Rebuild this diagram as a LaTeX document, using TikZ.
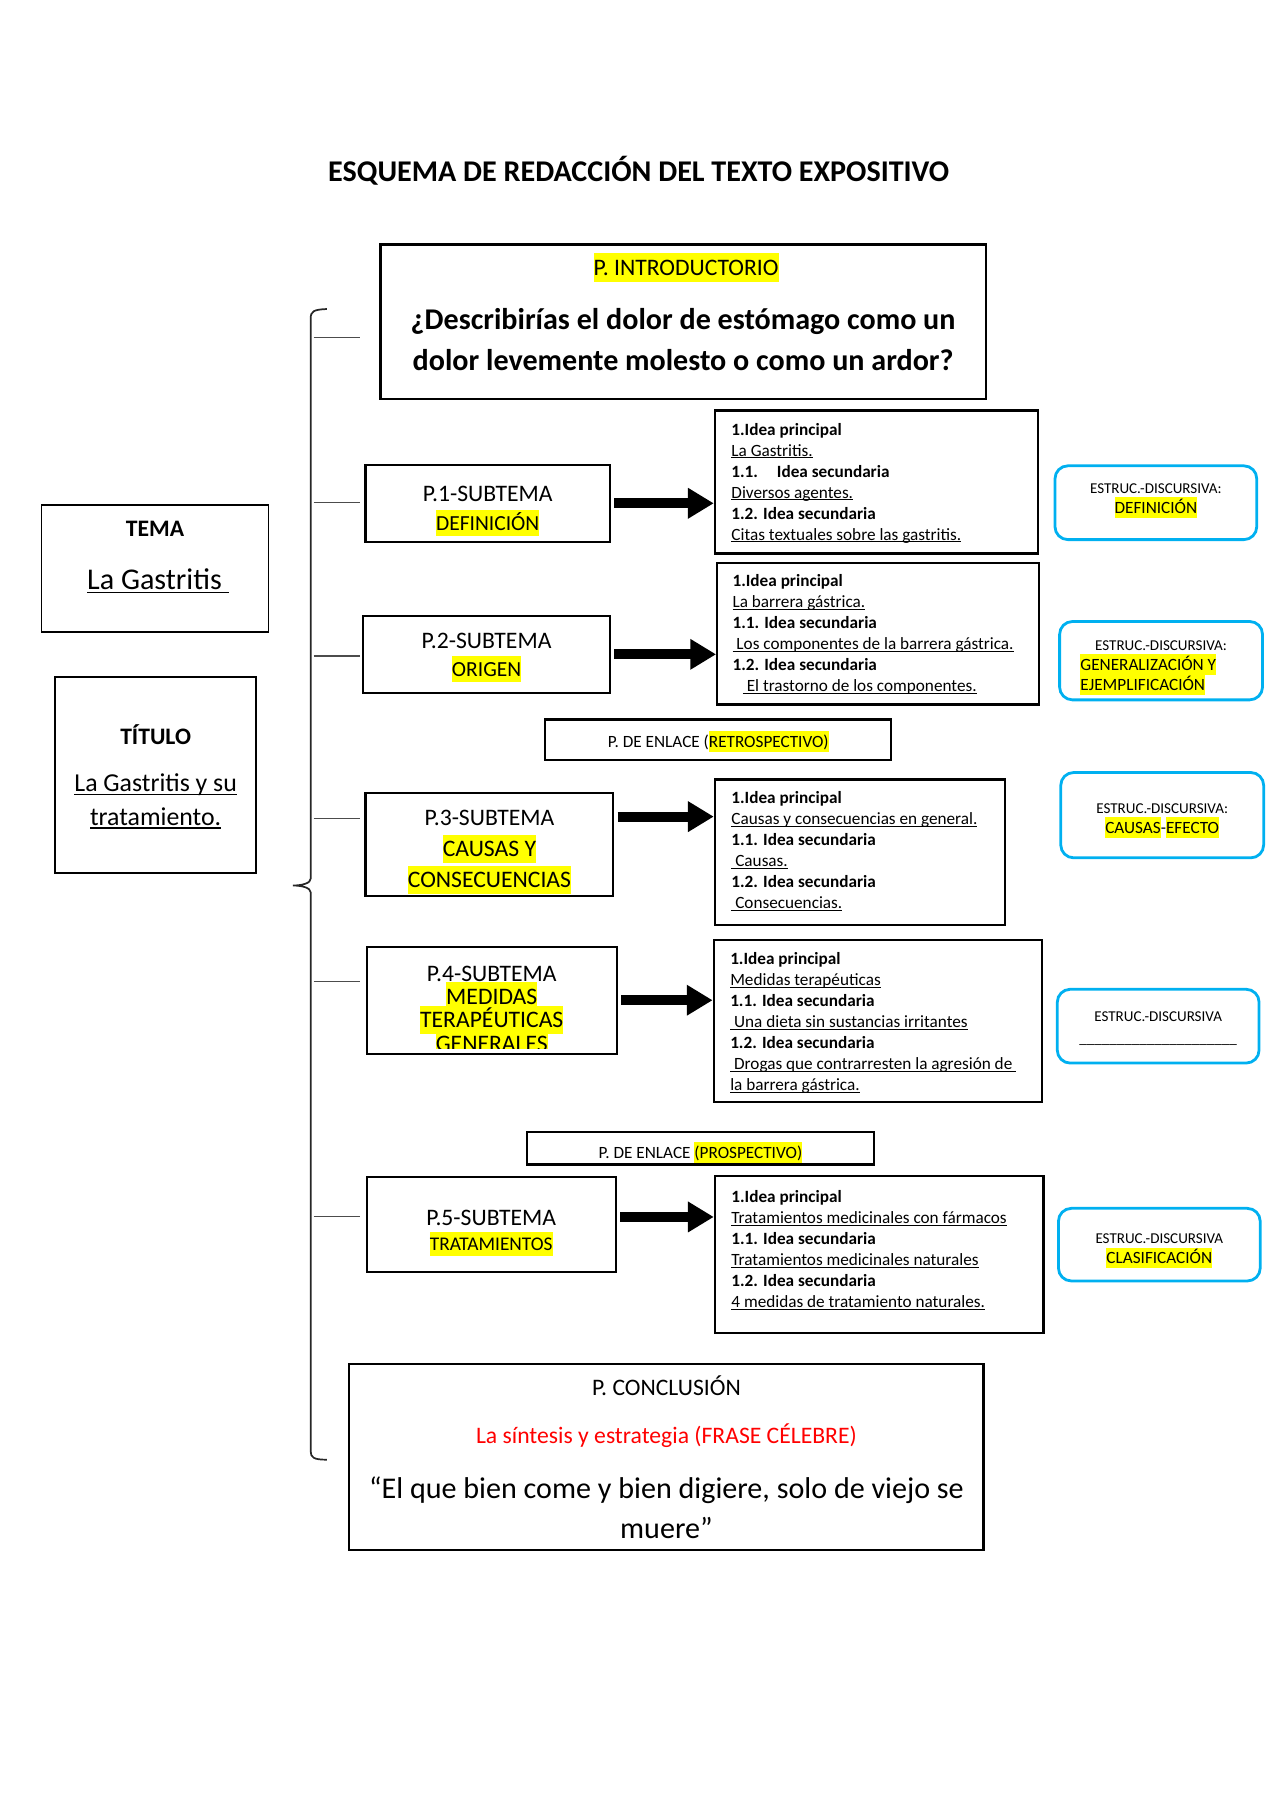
\documentclass[tikz,border=0pt]{standalone}
\usepackage{fontspec}
\setmainfont{Carlito}
\usetikzlibrary{arrows.meta,fit}
\definecolor{estrucblue}{RGB}{0,176,240}
\definecolor{hlyellow}{RGB}{255,255,0}
\newcommand\hilite[1]{{\setlength{\fboxsep}{0pt}\colorbox{hlyellow}{\vrule height 0.94em depth 0.27em width 0pt\smash{#1}}}}
\newcommand\ulin[1]{{\setbox0\hbox{#1}\rlap{\rule[-0.13em]{\wd0}{0.06em}}\box0}}
\lineskiplimit=-\maxdimen

\begin{document}
\begin{tikzpicture}[x=0.53629pt,y=-0.53629pt,
		box/.style={draw, line width=1pt, inner sep=0pt},
		thinbox/.style={draw, line width=0.75pt, inner sep=0pt},
		estruc/.style={draw=estrucblue, line width=1.3pt, rounded corners=6pt, inner sep=0pt},
		estructext/.style={align=center, inner sep=0pt, font=\fontsize{7}{9.4}\selectfont},
		ideatext/.style={anchor=west, align=left, inner sep=0pt, font=\fontsize{8}{9.76}\selectfont},
		bigarrow/.style={line width=4.6pt, -{Triangle[length=12pt,width=13.5pt]}, shorten <=1.5pt},
		tick/.style={line width=0.6pt, black!70},
		brace/.style={line width=0.8pt, black!85}]
		\useasboundingbox (0,0) rectangle (1110,1570.7);
		\node[font=\fontsize{14}{16}\selectfont\bfseries] (title) at (554,148) {ESQUEMA DE REDACCIÓN DEL TEXTO EXPOSITIVO};
		% parrafo introductorio
		\node[box, fit={(330,212)(855,346)}] (intro) {};
		\node[font=\fontsize{11}{13}\selectfont] (introlabel) at (595,232) {\hilite{P. INTRODUCTORIO}};
		\node[font=\fontsize{14}{18.8}\selectfont\bfseries, align=center] (question) at (592.5,294.5) {¿Describirías el dolor de estómago como un\\dolor levemente molesto o como un ardor?};
		% tema y titulo
		\node[thinbox, fit={(36,438)(233,548)}] (tema) {};
		\node[font=\fontsize{11}{13}\selectfont\bfseries] (temalabel) at (134.5,459) {TEMA};
		\node[font=\fontsize{14}{17}\selectfont] (tematext) at (137,504) {\ulin{La Gastritis~}};
		\node[box, fit={(48,587)(222,757)}] (titulo) {};
		\node[font=\fontsize{11}{13}\selectfont\bfseries] (titulolabel) at (135,637) {TÍTULO};
		\node[font=\fontsize{12}{15.6}\selectfont, align=center] (titulotext) at (135,695) {\ulin{La Gastritis y su}\\\ulin{tratamiento.}};
		% llave
		\draw[brace] (283.5,268) .. controls (272,268.5) and (269.5,270) .. (269.5,276) -- (269.5,762)
			.. controls (269.5,766) and (262,768) .. (254,768) .. controls (262,768) and (269.5,770) .. (269.5,774)
			-- (269.5,1259) .. controls (269.5,1264) and (272,1266) .. (283.5,1266);
		\foreach \y in {293,436,569,710,851,1055}
			\draw[tick] (272,\y) -- (312,\y);
		% subtemas
		\node[box, fit={(317,403)(529,470)}] (p1) {};
		\node[align=center, font=\fontsize{11}{13.4}\selectfont, yshift=-3.7pt] (p1text) at (p1) {P.1-SUBTEMA\\{\fontsize{10}{13.4}\selectfont\hilite{DEFINICIÓN}}};
		\node[box, fit={(315,534)(529,601)}] (p2) {};
		\node[align=center, font=\fontsize{11}{12.9}\selectfont, yshift=-1.5pt] (p2text) at (p2) {P.2-SUBTEMA\\{\fontsize{10}{12.9}\selectfont\hilite{ORIGEN}}};
		\node[box, fit={(317,688)(532,777)}] (p3) {};
		\node[align=center, font=\fontsize{11}{14.5}\selectfont, yshift=-3.6pt] (p3text) at (p3) {P.3-SUBTEMA\\\hilite{CAUSAS Y}\\\hilite{CONSECUENCIAS}};
		\node[box, fit={(318,821)(535,914)}] (p4) {};
		\begin{scope}
			\clip (318,821) rectangle (535,909);
			\node[font=\fontsize{11}{10.9}\selectfont, align=center] (p4text) at (426.5,877.5) {P.4-SUBTEMA\\\hilite{MEDIDAS}\\\hilite{TERAPÉUTICAS}\\\hilite{GENERALES}};
		\end{scope}
		\node[box, fit={(318,1021)(534,1103)}] (p5) {};
		\node[align=center, font=\fontsize{11}{11.8}\selectfont, yshift=-3.9pt] (p5text) at (p5) {P.5-SUBTEMA\\{\fontsize{9}{11.8}\selectfont\hilite{TRATAMIENTOS}}};
		% ideas
		\node[box, fit={(620,356)(900,480)}] (idea1) {};
		\node[ideatext] (idea1text) at (634,419) {\textbf{1.Idea principal}\\\ulin{La Gastritis.}\\\textbf{1.1.\hspace{1.1em}Idea secundaria}\\\ulin{Diversos agentes.}\\\textbf{1.2. Idea secundaria}\\\ulin{Citas textuales sobre las gastritis.}};
		\node[box, fit={(622,488)(901,611)}] (idea2) {};
		\node[ideatext] (idea2text) at (635,550.5) {\textbf{1.Idea principal}\\\ulin{La barrera gástrica.}\\\textbf{1.1. Idea secundaria}\\\ulin{~Los componentes de la barrera gástrica.}\\\textbf{1.2. Idea secundaria}\\\hspace{0.6em}\ulin{~El trastorno de los componentes.}};
		\node[box, fit={(620,676)(872,802)}] (idea3) {};
		\node[ideatext] (idea3text) at (634,738.5) {\textbf{1.Idea principal}\\\ulin{Causas y consecuencias en general.}\\\textbf{1.1. Idea secundaria}\\\ulin{~Causas.}\\\textbf{1.2. Idea secundaria}\\\ulin{~Consecuencias.}};
		\node[box, fit={(619,815)(904,956)}] (idea4) {};
		\node[ideatext] (idea4text) at (633,887.5) {\textbf{1.Idea principal}\\\ulin{Medidas terapéuticas}\\\textbf{1.1. Idea secundaria}\\\ulin{~Una dieta sin sustancias irritantes}\\\textbf{1.2. Idea secundaria}\\\ulin{~Drogas que contrarresten la agresión de~}\\\ulin{la barrera gástrica.}};
		\node[box, fit={(620,1020)(905,1156)}] (idea5) {};
		\node[ideatext] (idea5text) at (634,1084.5) {\textbf{1.Idea principal}\\\ulin{Tratamientos medicinales con fármacos}\\\textbf{1.1. Idea secundaria}\\\ulin{Tratamientos medicinales naturales}\\\textbf{1.2. Idea secundaria}\\\ulin{4 medidas de tratamiento naturales.}};
		% flechas
		\draw[bigarrow] (p1.east) -- (p1.east -| idea1.west);
		\draw[bigarrow] (p2.east) -- (p2.east -| idea2.west);
		\draw[bigarrow] ([yshift=13pt]p3.east) -- ([yshift=13pt]p3.east -| idea3.west);
		\draw[bigarrow] (p4.east) -- (p4.east -| idea4.west);
		\draw[bigarrow] ([yshift=3.5pt]p5.east) -- ([yshift=3.5pt]p5.east -| idea5.west);
		% estructuras discursivas
		\node[estruc, fit={(915,404)(1090,468)}] (estruc1) {};
		\node[estructext, yshift=0.8pt] (estruc1text) at (estruc1) {ESTRUC.-DISCURSIVA:\\{\fontsize{8}{9.4}\selectfont\hilite{DEFINICIÓN}}};
		\node[estruc, fit={(919,539)(1095,607)}] (estruc2) {};
		\node[estructext, yshift=-3.4pt] (estruc2text) at (estruc2) {ESTRUC.-DISCURSIVA:\\\makebox[75pt][l]{\fontsize{8}{9.4}\selectfont\hilite{GENERALIZACIÓN Y}}\\\makebox[75pt][l]{\fontsize{8}{9.4}\selectfont\hilite{EJEMPLIFICACIÓN}}};
		\node[estruc, fit={(920,670)(1096,744)}] (estruc3) {};
		\node[estructext, yshift=-2.7pt] (estruc3text) at (estruc3) {ESTRUC.-DISCURSIVA:\\{\fontsize{8}{9.4}\selectfont\hilite{CAUSAS}-\hilite{EFECTO}}};
		\node[estruc, fit={(917,858)(1092,922)}] (estruc4) {};
		\node[estructext, yshift=-1pt] (estruc4text) at (estruc4) {ESTRUC.-DISCURSIVA\\[1pt]\_\_\_\_\_\_\_\_\_\_\_\_\_\_\_\_\_\_\_\_\_};
		\node[estruc, fit={(918,1048)(1093,1111)}] (estruc5) {};
		\node[estructext, yshift=-3pt] (estruc5text) at (estruc5) {ESTRUC.-DISCURSIVA\\{\fontsize{8}{9.4}\selectfont\hilite{CLASIFICACIÓN}}};
		% parrafos de enlace
		\node[box, fit={(473,624)(773,659)}] (enlace1) {};
		\node[font=\fontsize{8}{10}\selectfont, inner sep=0pt, yshift=-1pt] (enlace1text) at (enlace1) {P. DE ENLACE (\hilite{RETROSPECTIVO)}};
		\node[box, fit={(457,982)(758,1010)}] (enlace2) {};
		\node[font=\fontsize{8}{10}\selectfont, inner sep=0pt, yshift=-2pt] (enlace2text) at (enlace2) {P. DE ENLACE \hilite{(PROSPECTIVO)}};
		% conclusion
		\node[box, fit={(303,1183)(853,1344)}] (conclusion) {};
		\node[font=\fontsize{11}{13}\selectfont] (conctitle) at (578,1202) {P. CONCLUSIÓN};
		\node[font=\fontsize{11}{13}\selectfont, text=red] (concred) at (578,1245) {La síntesis y estrategia (FRASE CÉLEBRE)};
		\node[font=\fontsize{14}{18.8}\selectfont, align=center] (quote) at (578,1307.5) {“El que bien come y bien digiere, solo de viejo se\\muere”};
	\end{tikzpicture}
\end{document}
